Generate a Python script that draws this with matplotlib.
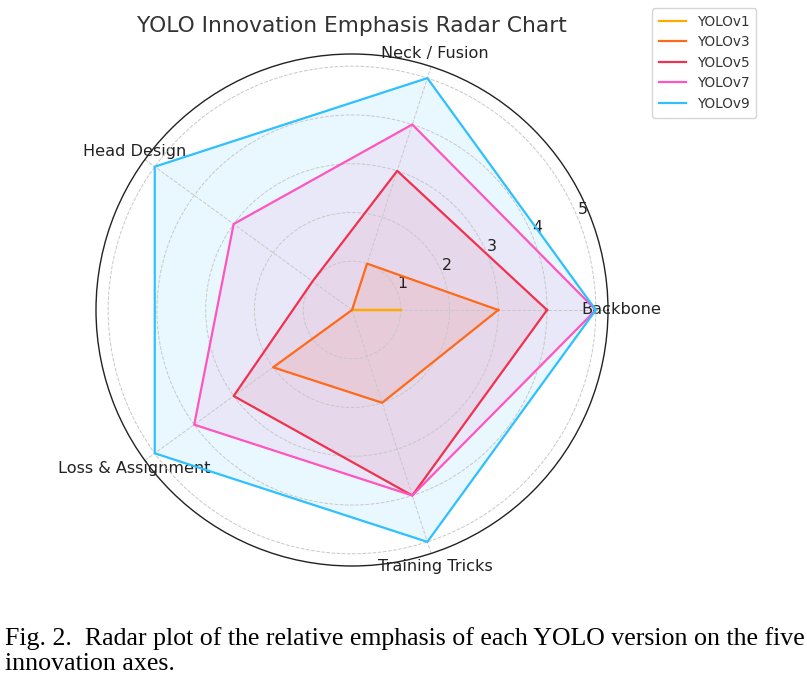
import numpy as np
import matplotlib
matplotlib.use("Agg")
import matplotlib.pyplot as plt

categories = ["Backbone", "Neck / Fusion", "Head Design", "Loss & Assignment", "Training Tricks"]
versions = ["YOLOv1", "YOLOv3", "YOLOv5", "YOLOv7", "YOLOv9"]
yolov1 = [1, 0, 0, 0, 0]
yolov3 = [3, 1, 0, 2, 2]
yolov5 = [4, 3, 1, 3, 4]
yolov7 = [5, 4, 3, 4, 4]
yolov9 = [5, 5, 5, 5, 5]
series = [yolov1, yolov3, yolov5, yolov7, yolov9]
colors = ["#FFAA00", "#FF6A1A", "#F03250", "#FF55C0", "#2EC0FF"]
r_ticks = [1, 2, 3, 4, 5]

W, H = 807, 677
fig = plt.figure(figsize=(W / 100, H / 100), dpi=100)
cx, cy, R = 352, 310, 256
ax = fig.add_axes([(cx - R) / W, (H - cy - R) / H, 2 * R / W, 2 * R / H], projection="polar")

n = len(categories)
angles = np.linspace(0, 2 * np.pi, n, endpoint=False)
ang_closed = np.concatenate([angles, angles[:1]])

for name, vals, col in zip(versions, series, colors):
    v = np.concatenate([vals, vals[:1]])
    ax.plot(ang_closed, v, color=col, linewidth=1.6, label=name)
    ax.fill(ang_closed, v, color=col, alpha=0.1)

ax.set_ylim(0, 5.25)
ax.set_yticks(r_ticks)
ax.set_yticklabels([str(t) for t in r_ticks], fontsize=11.3, color="#222222")
ax.set_rlabel_position(22.5)
ax.set_xticks(angles)
ax.set_xticklabels(categories, fontsize=11.6, color="#222222")
ax.tick_params(axis="x", pad=-1)
ax.grid(True, linestyle="--", color="#c8c8c8", linewidth=0.7)
ax.spines["polar"].set_color("#222222")
ax.spines["polar"].set_linewidth(1.0)

fig.text(cx / W, 1 - 32 / H, "YOLO Innovation Emphasis Radar Chart", ha="center",
         va="baseline", fontsize=15.7, color="#333333")

leg = fig.legend(loc="upper left", bbox_to_anchor=(645 / W, 1 - 1 / H), fontsize=9.8,
                 frameon=True, handlelength=2.0, borderpad=0.5, labelspacing=0.48,
                 handletextpad=0.8)
leg.get_frame().set_edgecolor("#cccccc")
for t in leg.get_texts():
    t.set_color("#333333")

fig.text(5 / W, 1 - 645 / H, "Fig. 2.  Radar plot of the relative emphasis of each YOLO version on the five",
         ha="left", va="baseline", fontsize=18.6, family="Liberation Serif", color="black")
fig.text(5 / W, 1 - 670 / H, "innovation axes.",
         ha="left", va="baseline", fontsize=18.6, family="Liberation Serif", color="black")

fig.savefig("out.png", dpi=100)
